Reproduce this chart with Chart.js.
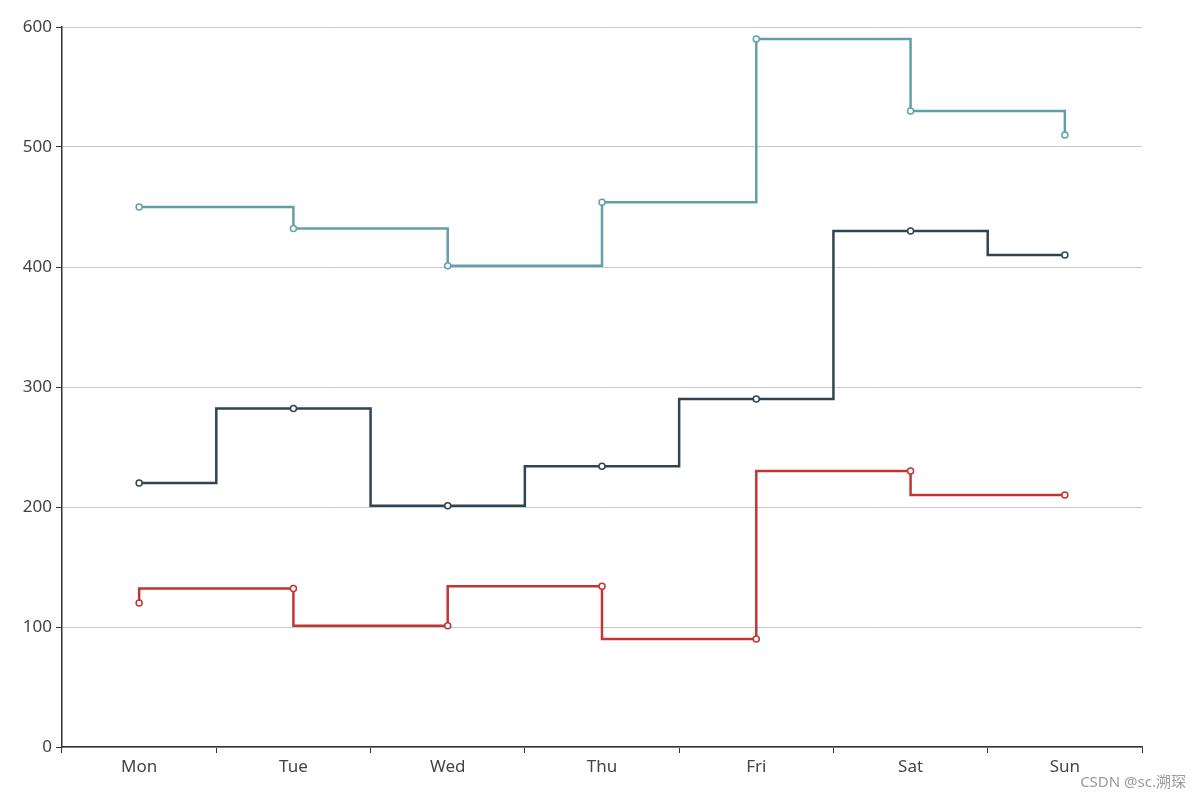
<!DOCTYPE html>
<html>
<head>
<meta charset="utf-8">
<script src="https://cdn.jsdelivr.net/npm/chart.js@4/dist/chart.umd.min.js"></script>
<style>
  html, body { margin: 0; padding: 0; background: #fff; }
  #wrap { width: 1201px; height: 800px; position: relative; }
</style>
</head>
<body>
<div id="wrap"><canvas id="chart" width="1201" height="800"></canvas></div>
<script>
'use strict'
const days = ['Mon', 'Tue', 'Wed', 'Thu', 'Fri', 'Sat', 'Sun']
const stepStart = [120, 132, 101, 134, 90, 230, 210]
const stepMiddle = [220, 282, 201, 234, 290, 430, 410]
const stepEnd = [450, 432, 401, 454, 590, 530, 510]
const yTicks = [0, 100, 200, 300, 400, 500, 600]
const watermark = 'CSDN @sc.溯琛'

const FONT = '"Noto Sans", "Noto Sans CJK SC", sans-serif'
const AXIS = '#333'

function series(label, data, color, mode) {
  return {
    label: label,
    data: data,
    stepped: mode,
    borderColor: color,
    backgroundColor: '#fff',
    borderWidth: 2.5,
    pointRadius: 3,
    pointBorderWidth: 1.5,
    pointBackgroundColor: '#fff',
    pointBorderColor: color,
    fill: false,
  }
}

const markPlugin = {
  id: 'mark',
  afterDraw(chart) {
    const c = chart.ctx
    c.save()
    c.font = '15px ' + FONT
    c.fillStyle = '#9a9a9a'
    c.textAlign = 'right'
    c.textBaseline = 'middle'
    c.fillText(watermark, 1186, 783)
    c.restore()
  },
}

const ctx = document.getElementById('chart').getContext('2d')
new Chart(ctx, {
  type: 'line',
  data: {
    labels: days,
    datasets: [
      series('Step Start', stepStart, '#c23531', 'after'),
      series('Step Middle', stepMiddle, '#2f4554', 'middle'),
      series('Step End', stepEnd, '#61a0a8', 'before'),
    ],
  },
  options: {
    responsive: false,
    animation: false,
    layout: { padding: { top: 27, right: 59, left: 0, bottom: 0 } },
    plugins: { legend: { display: false }, tooltip: { enabled: false } },
    scales: {
      x: {
        offset: true,
        grid: {
          offset: true,
          drawOnChartArea: false,
          drawTicks: true,
          tickLength: 6,
          tickColor: AXIS,
          tickWidth: 1,
        },
        border: { display: true, color: AXIS, width: 1.5 },
        ticks: { color: '#444', font: { family: FONT, size: 17 }, padding: 4 },
        afterFit(scale) { scale.height = 53 },
      },
      y: {
        min: 0,
        max: 600,
        afterBuildTicks(scale) { scale.ticks = yTicks.map((v) => ({ value: v })) },
        grid: {
          color: '#c8c8c8',
          lineWidth: 1,
          drawTicks: true,
          tickLength: 6,
          tickColor: AXIS,
        },
        border: { display: true, color: AXIS, width: 1.5 },
        ticks: { color: '#444', font: { family: FONT, size: 17 }, padding: 4 },
        afterFit(scale) { scale.width = 62 },
      },
    },
  },
  plugins: [markPlugin],
})
</script>
</body>
</html>
